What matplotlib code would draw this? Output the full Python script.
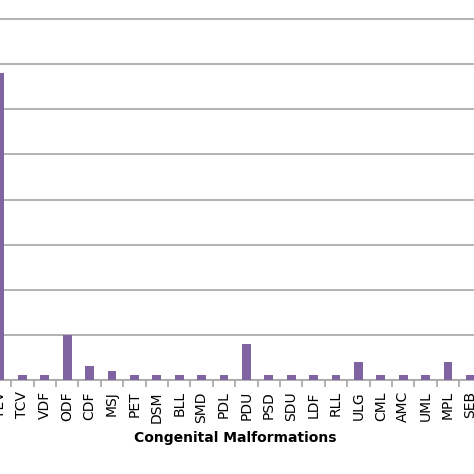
import matplotlib
matplotlib.use("Agg")
import matplotlib.pyplot as plt
import numpy as np

categories = ["TEV","TCV","VDF","ODF","CDF","MSJ","PET","DSM","BLL","SMD","PDL",
              "PDU","PSD","SDU","LDF","RLL","ULG","CML","AMC","UML","MPL","SEB"]
values = [6.8,0.1,0.1,1.0,0.3,0.2,0.1,0.1,0.1,0.1,0.1,
          0.8,0.1,0.1,0.1,0.1,0.4,0.1,0.1,0.1,0.4,0.1]

W = H = 474
fig = plt.figure(figsize=(4.74,4.74), dpi=100)
left = -11.2/W
width = 22*22.4/W
bottom = (H-380)/H
height = 379/H
ax = fig.add_axes([left, bottom, width, height])
x = np.arange(len(categories))
ax.bar(x, values, width=0.4, color="#8064A2", zorder=3)
ax.set_xlim(-0.5, len(categories)-0.5)
ax.set_ylim(0, 8.4)
ax.set_yticks(np.arange(0, 9, 1))
ax.yaxis.grid(True, color="#A6A6A6", linewidth=1.2)
ax.tick_params(axis="y", length=0, labelleft=False)
for s in ["left","right","top"]:
    ax.spines[s].set_visible(False)
ax.spines["bottom"].set_color("#A6A6A6")
ax.spines["bottom"].set_linewidth(1.2)
ax.set_xticks(x)
ax.set_xticklabels(categories, rotation=90, fontsize=10)
ax.tick_params(axis="x", length=0, pad=8)
ax.set_xticks(np.arange(-0.5, len(categories), 1), minor=True)
ax.tick_params(axis="x", which="minor", length=5, color="#A6A6A6", width=1.2)
ax.set_xlabel("Congenital Malformations", fontsize=10, fontweight="bold", labelpad=6)
fig.savefig("out.png", dpi=100)
